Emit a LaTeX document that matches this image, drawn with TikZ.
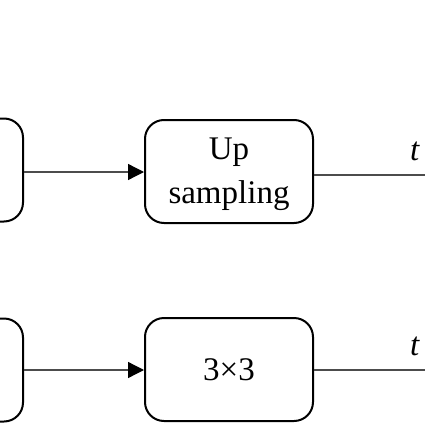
\documentclass[tikz,border=0pt]{standalone}
\usepackage{fontspec}
\setmainfont{Liberation Serif}
\usetikzlibrary{arrows.meta}
\begin{document}
\begin{tikzpicture}[x=1pt,y=-1pt,
  blockbox/.style={draw=black, line width=2pt, rounded corners=19pt, minimum width=168pt, minimum height=103pt, inner sep=0pt, align=center, font=\fontsize{33}{44}\selectfont},
  conn/.style={draw=black!70, line width=1.3pt},
  arr/.style={conn, -{Triangle[length=16pt,width=16pt,fill=black,color=black]}},
  tlabel/.style={font=\fontsize{33}{40}\selectfont\itshape, anchor=base west, inner sep=0pt}]
\useasboundingbox (0,0) rectangle (425,425);
\clip (0,0) rectangle (425,425);
\node[blockbox] (a1) at (-61,170) {};
\node[blockbox] (up) at (229,171.5) {};
\node[font=\fontsize{33}{44}\selectfont, align=center, inner sep=0pt] (uptext) at (229,174) {Up\\sampling};
\coordinate (o1) at (440,175);
\draw[arr] (a1.east |- 0,172) -- (up.west |- 0,172);
\draw[conn] (up.east |- o1) -- (o1);
\node[tlabel] (t1) at (410,160) {t};
\node[blockbox] (a2) at (-61,370) {};
\node[blockbox] (cv) at (229,369.5) {3×3};
\coordinate (o2) at (440,370);
\draw[arr] (a2.east |- 0,370) -- (cv.west |- 0,370);
\draw[conn] (cv.east |- o2) -- (o2);
\node[tlabel] (t2) at (410,355) {t};
\end{tikzpicture}
\end{document}
